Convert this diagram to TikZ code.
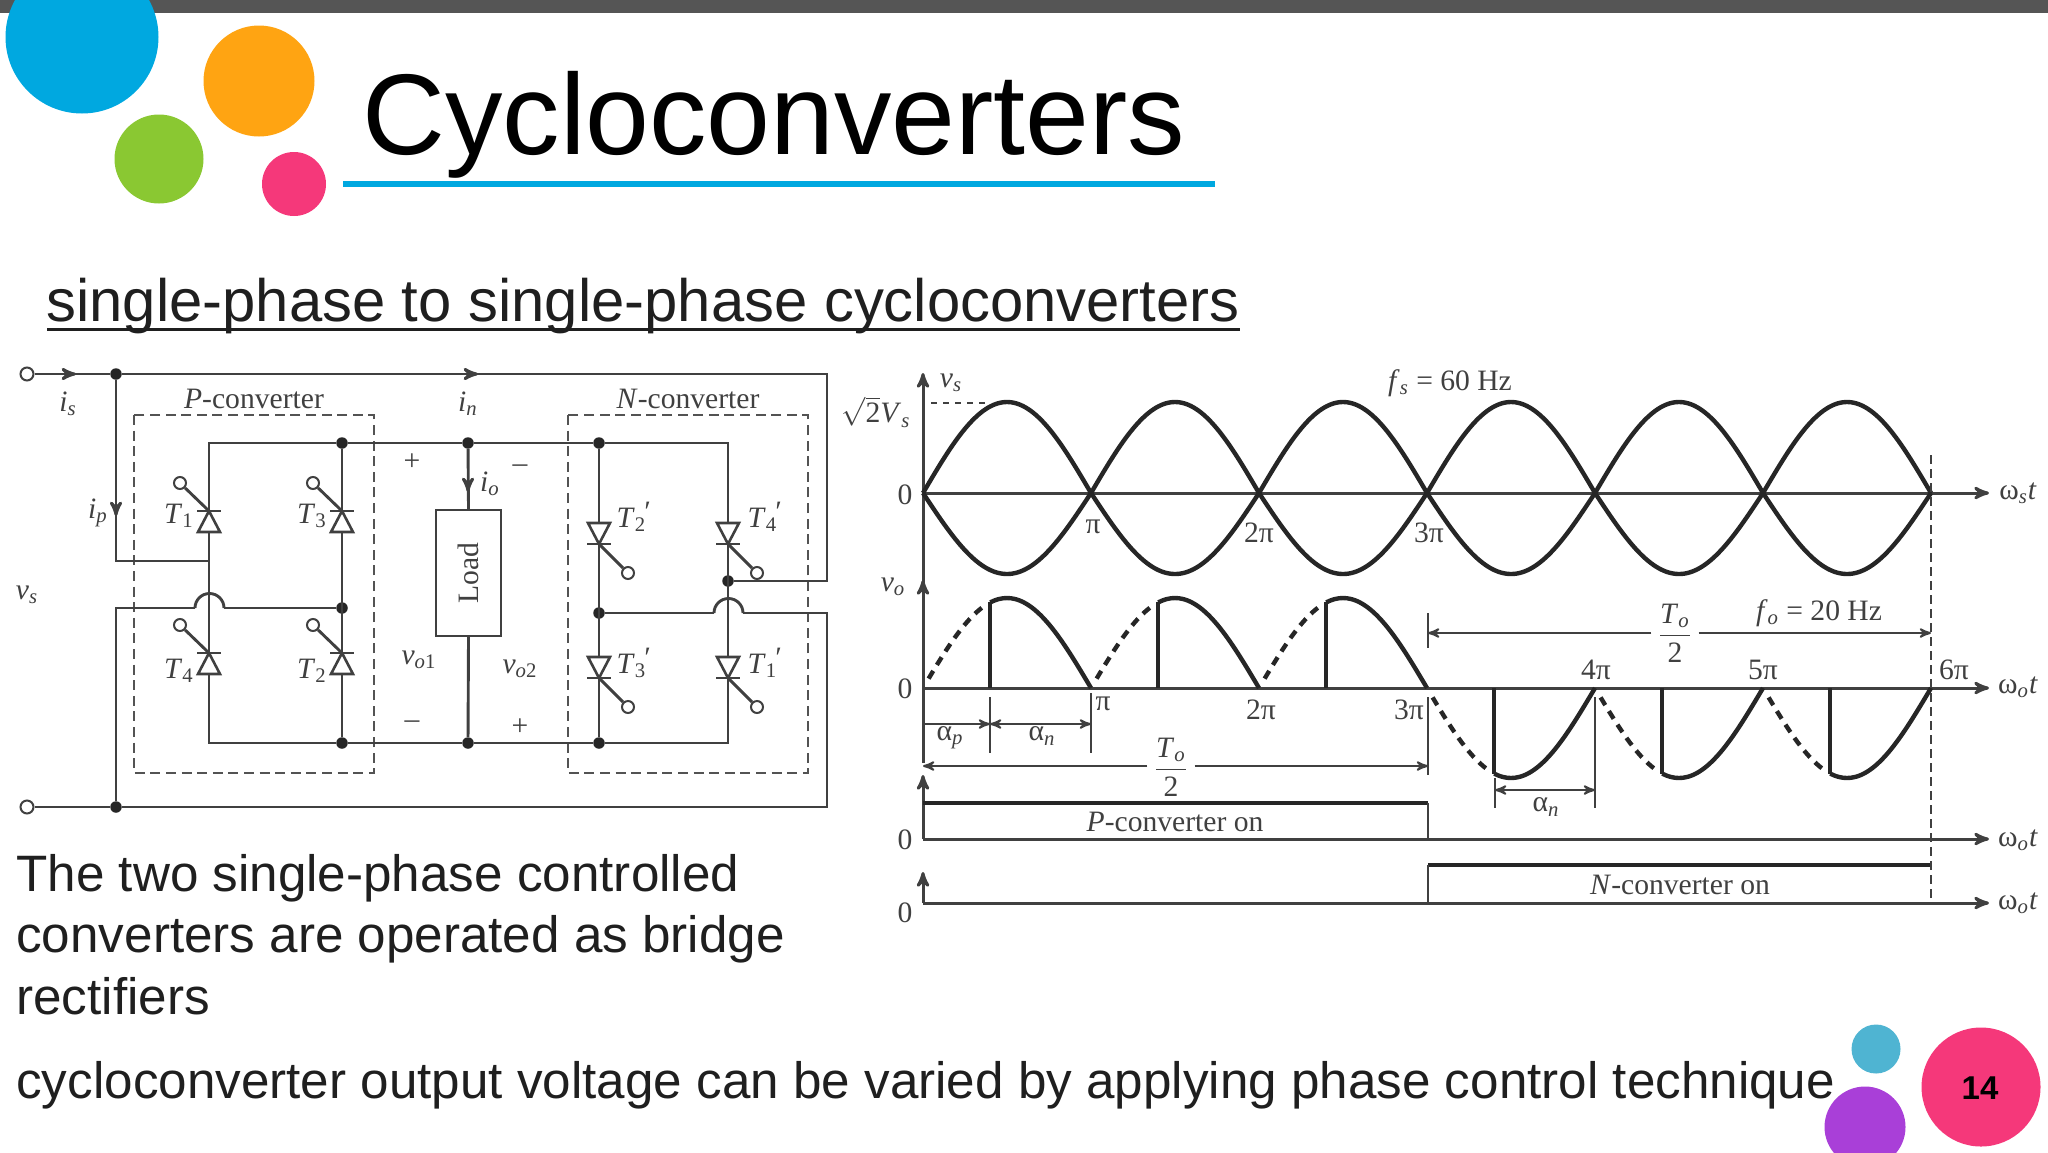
\documentclass[tikz,border=0pt]{standalone}
\usepackage{fontspec}
\setmainfont{Liberation Serif}
\newfontfamily\slidefont{Liberation Sans}
\usetikzlibrary{arrows,calc}
\definecolor{ink}{HTML}{404040}
\definecolor{barcol}{HTML}{555555}
\definecolor{bluecol}{HTML}{00A8E0}
\definecolor{orangecol}{HTML}{FFA412}
\definecolor{greencol}{HTML}{8AC832}
\definecolor{pinkcol}{HTML}{F5387A}
\definecolor{tealcol}{HTML}{4FB4D2}
\definecolor{purplecol}{HTML}{A93FD8}
\tikzstyle{wire} = [draw, line width=1.45pt, color=ink]
\tikzstyle{wirearrow} = [draw, line width=1.45pt, color=ink, -stealth']
\tikzstyle{groupbox} = [draw, line width=1pt, color=ink!90, dash pattern=on 5pt off 2.8pt]
\tikzstyle{thyr} = [draw, line width=1.3pt, color=ink, fill=white]
\tikzstyle{junction} = [circle, fill=black!85, inner sep=0pt, minimum size=5.75pt]
\tikzstyle{terminal} = [circle, draw, line width=1pt, color=ink, fill=white, inner sep=0pt, minimum size=6.5pt]
\tikzstyle{gatering} = [circle, draw, line width=1pt, color=ink, fill=white, inner sep=0pt, minimum size=6pt]
\tikzstyle{lbl} = [color=ink, font=\fontsize{14.8}{17}\selectfont, inner sep=0pt]
\tikzstyle{axisarrow} = [draw, line width=1.5pt, color=ink, -stealth']
\tikzstyle{wave} = [draw, line width=2.2pt, color=black!85, line join=round]
\tikzstyle{wavedash} = [draw, line width=2.2pt, color=black!85, dash pattern=on 4.5pt off 3.5pt]
\tikzstyle{pulse} = [draw, line width=2.4pt, color=black!85]
\tikzstyle{tick} = [draw, line width=0.9pt, color=ink]
\tikzstyle{dimarrow} = [draw, line width=1pt, color=ink, -stealth']
\tikzstyle{endmark} = [draw, line width=1pt, color=ink, dash pattern=on 4.5pt off 2.5pt]
\tikzstyle{slidetext} = [font=\slidefont\fontsize{25.6}{30}\selectfont, color=black!88, inner sep=0pt, anchor=base west]
\newcommand{\ivar}[2]{\textit{#1}\textsubscript{\textit{#2}}}
\newcommand{\tname}[1]{\textit{T}\textsubscript{#1}}
\newcommand{\tprime}[1]{\textit{T}\textsubscript{#1}\kern-.12em\raisebox{.2em}{\textit{′}}}
\newcommand{\halfper}{$\displaystyle\frac{\hbox{\ivar{T}{o}}}{\hbox{2}}$}
% thyristor, bar at #2, triangle below it, gate up left
\newcommand{\thyup}[2]{
  \coordinate (#1) at #2;
  \path [thyr] (#1) ++(-11,21) -- ++(22,0) -- (#1) -- cycle;
  \path [wire] (#1)+(-12,0) -- +(12,0);
  \path (#1)+(-29,-28) node (g#1) [gatering] {};
  \path [wire] (#1) -- (g#1);
}
% thyristor, bar at #2, triangle above it, gate down right
\newcommand{\thydown}[2]{
  \coordinate (#1) at #2;
  \path [thyr] (#1) ++(-11,-21) -- ++(22,0) -- (#1) -- cycle;
  \path [wire] (#1)+(-12,0) -- +(12,0);
  \path (#1)+(29,29) node (g#1) [gatering] {};
  \path [wire] (#1) -- (g#1);
}
\begin{document}
\begin{tikzpicture}[x=0.5pt,y=-0.5pt]
\clip (0,0) rectangle (2048,1152);

% slide decoration
\fill[barcol] (0,0) rectangle (2048,13);
\fill[bluecol] (82,37) circle (76.5);
\fill[orangecol] (259,81) circle (55.5);
\fill[greencol] (159,159) circle (44.5);
\fill[pinkcol] (294,184) circle (32);
\fill[tealcol] (1876,1049) circle (24.5);
\fill[purplecol] (1865,1127) circle (40.5);
\fill[pinkcol] (1981,1087) circle (59.5);
\node (page) [font=\slidefont\bfseries\fontsize{16.5}{20}\selectfont, inner sep=0pt] at (1980,1088) {14};

\node (title) [slidetext, font=\slidefont\fontsize{57.4}{60}\selectfont, color=black] at (362,154) {Cycloconverters};
\fill[bluecol] (343,181) rectangle (1215,187);
\node (subtitle) [slidetext, font=\slidefont\fontsize{29.9}{32}\selectfont] at (46,321) {single-phase to single-phase cycloconverters};
\fill[black!88] (47,328) rectangle (1240,331);
\node (body1) [slidetext] at (16,891) {The two single-phase controlled};
\node (body2) [slidetext] at (16,952) {converters are operated as bridge};
\node (body3) [slidetext] at (16,1014) {rectifiers};
\node (body4) [slidetext] at (16,1098) {cycloconverter output voltage can be varied by applying phase control technique};

% circuit
\path [groupbox] (134,415) rectangle (374,773);
\path [groupbox] (568,415) rectangle (808,773);

\node (ts) [terminal] at (27,374) {};
\node (tr) [terminal] at (27,807) {};
\node (da) [junction] at (116,374) {};
\node (db) [junction] at (116,807) {};
\node (d1) [junction] at (342,443) {};
\node (d2) [junction] at (342,608) {};
\node (d3) [junction] at (342,743) {};
\node (d4) [junction] at (468,443) {};
\node (d5) [junction] at (468,743) {};
\node (d6) [junction] at (599,443) {};
\node (d7) [junction] at (599,613) {};
\node (d8) [junction] at (599,743) {};
\node (d9) [junction] at (728,581) {};
\coordinate (p1) at (209,443);
\coordinate (p2) at (209,743);
\coordinate (p3) at (209,561);
\coordinate (p4) at (116,561);
\coordinate (p5) at (116,608);
\coordinate (p6) at (195,608);
\coordinate (p7) at (224,608);
\coordinate (n1) at (728,443);
\coordinate (n2) at (728,743);
\coordinate (n3) at (714,613);
\coordinate (n4) at (743,613);
\coordinate (n5) at (827,613);
\coordinate (n6) at (827,807);
\coordinate (n7) at (827,581);
\coordinate (n8) at (827,374);
\coordinate (atop1) at (76,374);
\coordinate (atop2) at (478,374);
\coordinate (aip) at (116,516);
\coordinate (aio) at (468,492);

\node (load) [draw, line width=1.2pt, color=ink, fill=white, minimum width=32.5pt, minimum height=63pt, inner sep=0pt] at (468.5,573) {};
\node (loadtxt) [lbl, rotate=90] at (468.5,573) {Load};

\path [wire] (p3) -- (p2) -- (d3) -- (d1) -- (p1) -- (p3);
\path [wire] (d1) -- (d4) -- (d6) -- (n1) -- (n2) -- (d8) -- (d5) -- (d3);
\path [wire] (d6) -- (d8);
\path [wire] (d4) -- (load.north);
\path [wire] (load.south) -- (d5);
\path [wirearrow] (d4) -- (aio);
\path [wire] (ts) -- (da) -- (n8) -- (n7) -- (d9);
\path [wirearrow] (ts) -- (atop1);
\path [wirearrow] (da) -- (atop2);
\path [wire] (tr) -- (db) -- (n6) -- (n5) -- (n4);
\path [wire] (n3) -- (d7);
\path [wire] (n4) arc (0:-180:14.5);
\path [wire] (da) -- (p4) -- (p3);
\path [wirearrow] (da) -- (aip);
\path [wire] (db) -- (p5) -- (p6);
\path [wire] (p7) -- (d2);
\path [wire] (p7) arc (0:-180:14.5);

\thyup{t1}{(209,511)}
\thyup{t3}{(342,511)}
\thyup{t4}{(209,653)}
\thyup{t2}{(342,653)}
\thydown{s2}{(599,544)}
\thydown{s4}{(728,544)}
\thydown{s3}{(599,678)}
\thydown{s1}{(728,678)}

\node (lt1) [lbl] at (179,516) {\tname{1}};
\node (lt3) [lbl] at (312,516) {\tname{3}};
\node (lt4) [lbl] at (179,671) {\tname{4}};
\node (lt2) [lbl] at (312,671) {\tname{2}};
\node (ls2) [lbl] at (633,517) {\tprime{2}};
\node (ls4) [lbl] at (764,517) {\tprime{4}};
\node (ls3) [lbl] at (633,663) {\tprime{3}};
\node (ls1) [lbl] at (764,663) {\tprime{1}};
\node (lis) [lbl] at (68,404) {\ivar{i}{s}};
\node (lip) [lbl] at (98,513) {\ivar{i}{p}};
\node (lvs) [lbl] at (27,595) {\ivar{v}{s}};
\node (lin) [lbl] at (468,404) {\ivar{i}{n}};
\node (lio) [lbl] at (490,484) {\ivar{i}{o}};
\node (lvo1) [lbl] at (419,660) {\textit{v}\textsubscript{\textit{o}1}};
\node (lvo2) [lbl] at (520,669) {\textit{v}\textsubscript{\textit{o}2}};
\node (lpc) [lbl] at (254,399) {\textit{P}-converter};
\node (lnc) [lbl] at (688,399) {\textit{N}-converter};
\node (pl1) [lbl] at (412,462) {+};
\node (mi1) [lbl] at (412,725) {--};
\node (mi2) [lbl] at (520,469) {--};
\node (pl2) [lbl] at (520,727) {+};

% waveforms
\coordinate (vs0) at (923,493);
\coordinate (vo0) at (923,688);
\coordinate (pc0) at (923,839);
\coordinate (nc0) at (923,903);
\coordinate (vsx) at (1989,493);
\coordinate (vox) at (1989,688);
\coordinate (pcx) at (1989,839);
\coordinate (ncx) at (1989,903);
\coordinate (vsy) at (923,373);
\coordinate (voy) at (923,580);
\coordinate (pcy) at (923,775);
\coordinate (ncy) at (923,872);
\coordinate (swp) at (1428,839);
\coordinate (swn) at (1428,903);
\coordinate (ptop) at (923,803);
\coordinate (pmid) at (1428,803);
\coordinate (nmid) at (1428,865);
\coordinate (ntop) at (1931,865);

\path [axisarrow] (vs0) -- (vsx);
\path [axisarrow] (vo0) -- (vox);
\path [axisarrow] (pc0) -- (pcx);
\path [axisarrow] (nc0) -- (ncx);
\path [axisarrow] (923,583) -- (vsy);
\path [axisarrow] (923,763) -- (voy);
\path [axisarrow] (pc0) -- (pcy);
\path [axisarrow] (nc0) -- (ncy);

\foreach \k in {0,...,5} {
  \path [wave] plot[domain=0:180,samples=37,smooth] ({923+168*(\k+\x/180)},{493-91*sin(\x)});
  \path [wave] plot[domain=0:180,samples=37,smooth] ({923+168*(\k+\x/180)},{493+81*sin(\x)});
}
\foreach \k/\sg in {0/-1,1/-1,2/-1,3/1,4/1,5/1} {
  \path [wavedash] plot[domain=6:68,samples=15,smooth] ({923+168*(\k+\x/180)},{688+\sg*90*sin(\x)});
  \path [wave] plot[domain=72:180,samples=25,smooth] ({923+168*(\k+\x/180)},{688+\sg*90*sin(\x)});
  \path [wave] ({923+168*(\k+0.4)},688) -- ({923+168*(\k+0.4)},{688+\sg*85.6});
}

\path [pulse] (ptop) -- (pmid);
\path [wire] (pmid) -- (swp);
\path [pulse] (nmid) -- (ntop);
\path [wire] (nmid) -- (swn);
\path [endmark] (1931,455) -- (1931,903);
\path [wire, dashed] (931,403) -- (986,403);

% dimension lines
\coordinate (tka) at (990,753);
\coordinate (tkb) at (1091,753);
\coordinate (tkc) at (1428,775);
\coordinate (tkd) at (1428,613);
\coordinate (tke) at (1495,808);
\coordinate (tkf) at (1595,808);
\path [tick] (990,697) -- (tka);
\path [tick] (1091,693) -- (tkb);
\path [tick] (1428,697) -- (tkc);
\path [tick] (tkd) -- (1428,648);
\path [tick] (1495,778) -- (tke);
\path [tick] (1595,697) -- (tkf);

\coordinate (aa) at (923,724);
\coordinate (ab) at (990,724);
\coordinate (ac) at (1091,724);
\path [dimarrow] (aa) -- (ab);
\path [dimarrow] ($(ab)!0.5!(ac)$) -- (ab);
\path [dimarrow] ($(ab)!0.5!(ac)$) -- (ac);
\coordinate (ad) at (1495,790);
\coordinate (ae) at (1595,790);
\path [dimarrow] ($(ad)!0.5!(ae)$) -- (ad);
\path [dimarrow] ($(ad)!0.5!(ae)$) -- (ae);

\node (frac1) [lbl] at (1171,767) {\halfper};
\node (frac2) [lbl] at (1675,633) {\halfper};
\coordinate (fa) at (923,766);
\coordinate (fb) at (1428,766);
\coordinate (fc) at (1428,633);
\coordinate (fd) at (1931,633);
\path [dimarrow] ([xshift=-3pt]frac1.west |- fa) -- (fa);
\path [dimarrow] ([xshift=3pt]frac1.east |- fa) -- (fb);
\path [dimarrow] ([xshift=-3pt]frac2.west |- fc) -- (fc);
\path [dimarrow] ([xshift=3pt]frac2.east |- fc) -- (fd);

\node (lrt) [lbl] at (876,412) {$\sqrt{\hbox{2}}$\ivar{V}{s}};
\node (lvsa) [lbl] at (951,383) {\ivar{v}{s}};
\node (lfs) [lbl] at (1450,383) {\ivar{f}{s} = 60 Hz};
\node (lfo) [lbl] at (1819,613) {\ivar{f}{o} = 20 Hz};
\node (lvoa) [lbl] at (893,587) {\ivar{v}{o}};
\node (z1) [lbl] at (905,495) {0};
\node (z2) [lbl] at (905,689) {0};
\node (z3) [lbl] at (905,840) {0};
\node (z4) [lbl] at (905,913) {0};
\node (pa1) [lbl] at (1093,527) {π};
\node (pa2) [lbl] at (1259,533) {2π};
\node (pa3) [lbl] at (1429,533) {3π};
\node (pb1) [lbl] at (1103,704) {π};
\node (pb2) [lbl] at (1261,710) {2π};
\node (pb3) [lbl] at (1409,710) {3π};
\node (pb4) [lbl] at (1596,670) {4π};
\node (pb5) [lbl] at (1763,670) {5π};
\node (pb6) [lbl] at (1954,670) {6π};
\node (lwst) [lbl] at (2018,493) {ω\textsubscript{\textit{s}}\textit{t}};
\node (lwot) [lbl] at (2018,687) {ω\textsubscript{\textit{o}}\textit{t}};
\node (lwpt) [lbl] at (2018,840) {ω\textsubscript{\textit{o}}\textit{t}};
\node (lwnt) [lbl] at (2018,903) {ω\textsubscript{\textit{o}}\textit{t}};
\node (lap) [lbl] at (950,738) {α\textsubscript{\textit{p}}};
\node (lan) [lbl] at (1042,736) {α\textsubscript{\textit{n}}};
\node (lam) [lbl] at (1546,807) {α\textsubscript{\textit{n}}};
\node (lpon) [lbl] at (1175,822) {\textit{P}-converter on};
\node (lnon) [lbl] at (1680,885) {\textit{N}-converter on};
\end{tikzpicture}
\end{document}
